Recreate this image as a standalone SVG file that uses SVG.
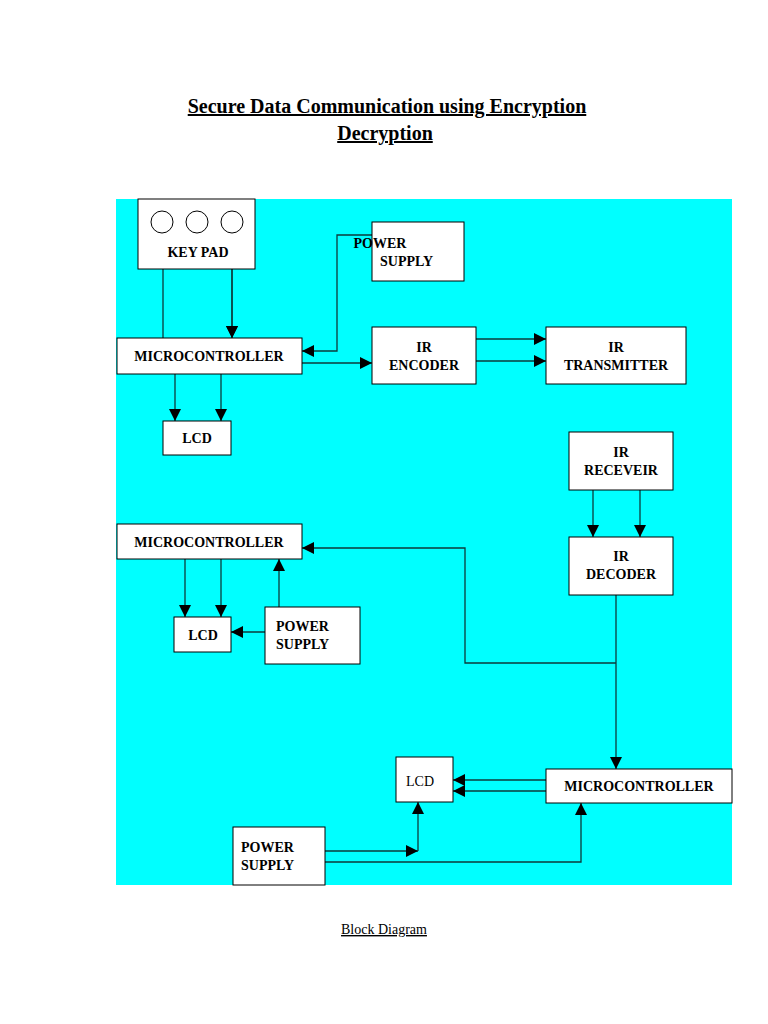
<svg xmlns="http://www.w3.org/2000/svg" width="768" height="1024" viewBox="0 0 768 1024">
<style>
.b{fill:#fff;stroke:#000;stroke-width:1}
.t{font-family:"Liberation Serif",serif;font-weight:bold;font-size:14px;text-anchor:middle}
.c{fill:none;stroke:#0d3b3b;stroke-width:1.3}
</style>
<defs><marker id="a" viewBox="0 0 10 10" refX="10" refY="5" markerWidth="12" markerHeight="12" markerUnits="userSpaceOnUse" orient="auto"><path d="M0,0L10,5L0,10z" fill="#000"/></marker></defs>
<rect width="768" height="1024" fill="#fff"/>
<text x="387" y="113" font-family="Liberation Serif,serif" font-weight="bold" font-size="20" text-anchor="middle" text-decoration="underline">Secure Data Communication using Encryption </text>
<text x="385" y="140" font-family="Liberation Serif,serif" font-weight="bold" font-size="20" text-anchor="middle" text-decoration="underline">Decryption</text>
<rect x="116" y="199" width="616" height="686" fill="#00ffff"/>
<g id="connectors" class="c">
<path d="M163,269V338M232,269V338" marker-end="url(#a)"/>
<path d="M232,269V338" marker-end="url(#a)"/>
<path d="M372,235H337V351H302" marker-end="url(#a)"/>
<path d="M302,363H372" marker-end="url(#a)"/>
<path d="M476,339H546" marker-end="url(#a)"/>
<path d="M476,361H546" marker-end="url(#a)"/>
<path d="M175,374V421" marker-end="url(#a)"/>
<path d="M221,374V421" marker-end="url(#a)"/>
<path d="M593,490V537" marker-end="url(#a)"/>
<path d="M640,490V537" marker-end="url(#a)"/>
<path d="M616,663H465V548H302" marker-end="url(#a)"/>
<path d="M616,595V769" marker-end="url(#a)"/>
<path d="M185,559V617" marker-end="url(#a)"/>
<path d="M221,559V617" marker-end="url(#a)"/>
<path d="M265,632H231" marker-end="url(#a)"/>
<path d="M279,607V559" marker-end="url(#a)"/>
<path d="M546,780H453" marker-end="url(#a)"/>
<path d="M546,791H453" marker-end="url(#a)"/>
<path d="M325,851H418" marker-end="url(#a)"/>
<path d="M418,851V802" marker-end="url(#a)"/>
<path d="M325,862H581V803" marker-end="url(#a)"/>
</g>
<g id="keypad"><rect class="b" x="138" y="199" width="117" height="70"/><circle class="b" cx="162" cy="222" r="11"/><circle class="b" cx="197" cy="222" r="11"/><circle class="b" cx="232" cy="222" r="11"/><text class="t" x="198" y="257">KEY PAD</text></g>
<g id="ps1"><rect class="b" x="372" y="222" width="92" height="59"/><text class="t" x="380" y="248" text-anchor="start">POWER</text><text class="t" x="380" y="266" text-anchor="start" style="text-anchor:start">SUPPLY</text></g>
<g id="mcu1"><rect class="b" x="117" y="338" width="185" height="36"/><text class="t" x="209" y="361">MICROCONTROLLER</text></g>
<g id="enc"><rect class="b" x="372" y="327" width="104" height="57"/><text class="t" x="424" y="352">IR</text><text class="t" x="424" y="370">ENCODER</text></g>
<g id="tx"><rect class="b" x="546" y="327" width="140" height="57"/><text class="t" x="616" y="352">IR</text><text class="t" x="616" y="370">TRANSMITTER</text></g>
<g id="lcd1"><rect class="b" x="163" y="421" width="68" height="34"/><text class="t" x="197" y="443">LCD</text></g>
<g id="rx"><rect class="b" x="569" y="432" width="104" height="58"/><text class="t" x="621" y="457">IR</text><text class="t" x="621" y="475">RECEVEIR</text></g>
<g id="dec"><rect class="b" x="569" y="537" width="104" height="58"/><text class="t" x="621" y="561">IR</text><text class="t" x="621" y="579">DECODER</text></g>
<g id="mcu2"><rect class="b" x="117" y="524" width="185" height="35"/><text class="t" x="209" y="547">MICROCONTROLLER</text></g>
<g id="lcd2"><rect class="b" x="174" y="617" width="57" height="35"/><text class="t" x="203" y="640">LCD</text></g>
<g id="ps2"><rect class="b" x="265" y="607" width="95" height="57"/><text class="t" x="276" y="631" style="text-anchor:start">POWER</text><text class="t" x="276" y="649" style="text-anchor:start">SUPPLY</text></g>
<g id="lcd3"><rect class="b" x="396" y="757" width="57" height="45"/><text x="420" y="786" font-family="Liberation Serif,serif" font-size="14" text-anchor="middle">LCD</text></g>
<g id="mcu3"><rect class="b" x="546" y="769" width="186" height="34"/><text class="t" x="639" y="791">MICROCONTROLLER</text></g>
<g id="ps3"><rect class="b" x="233" y="827" width="92" height="58"/><text class="t" x="241" y="852" style="text-anchor:start">POWER</text><text class="t" x="241" y="870" style="text-anchor:start">SUPPLY</text></g>
<text x="384" y="934" font-family="Liberation Serif,serif" font-size="14" text-anchor="middle" text-decoration="underline">Block Diagram</text>
</svg>
